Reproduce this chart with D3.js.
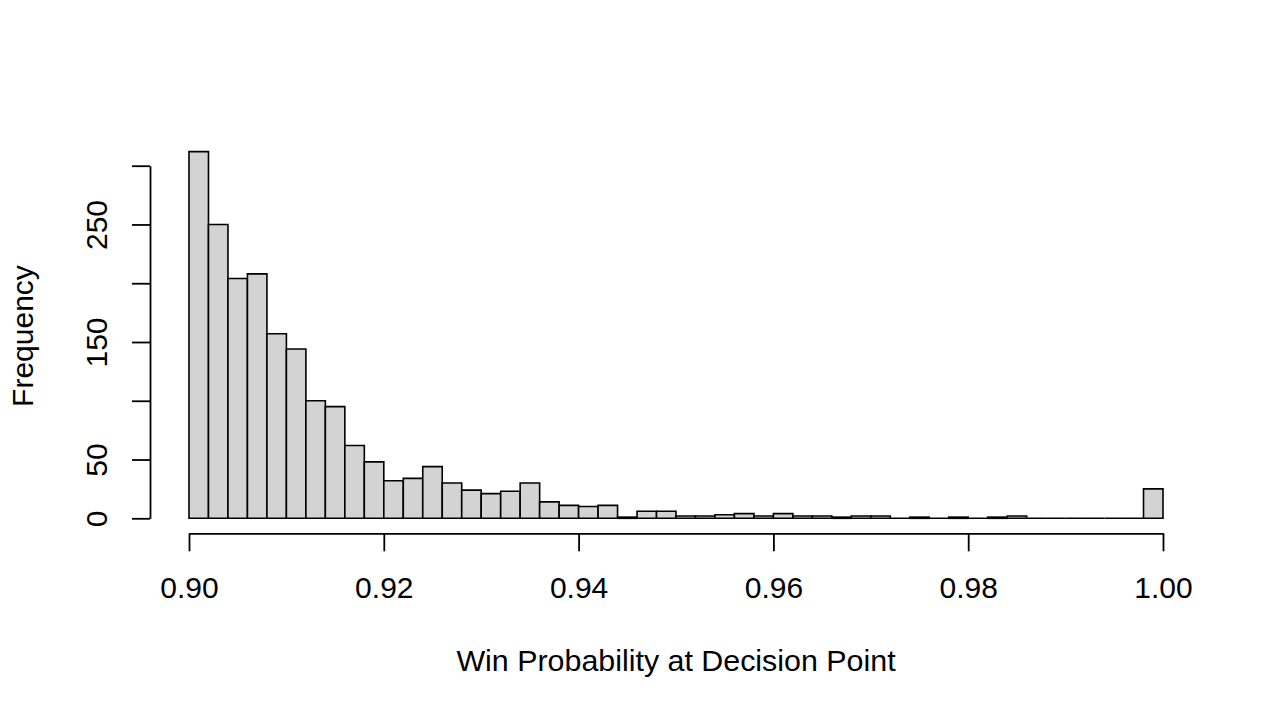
<!DOCTYPE html>
<html>
<head>
<meta charset="utf-8">
<script src="https://cdn.jsdelivr.net/npm/d3@7"></script>
<style>
  body { margin: 0; background: #fff; }
  svg { display: block; font-family: "Liberation Sans", Arial, Helvetica, sans-serif; }
</style>
</head>
<body>
<script>
// Histogram bin edges (width 0.002) and counts
const binEdges = [0.900, 0.902, 0.904, 0.906, 0.908, 0.910, 0.912, 0.914, 0.916, 0.918,
                  0.920, 0.922, 0.924, 0.926, 0.928, 0.930, 0.932, 0.934, 0.936, 0.938,
                  0.940, 0.942, 0.944, 0.946, 0.948, 0.950, 0.952, 0.954, 0.956, 0.958,
                  0.960, 0.962, 0.964, 0.966, 0.968, 0.970, 0.972, 0.974, 0.976, 0.978,
                  0.980, 0.982, 0.984, 0.986, 0.988, 0.990, 0.992, 0.994, 0.996, 0.998, 1.000];
const counts = [312, 250, 204, 208, 157, 144, 100, 95, 62, 48,
                32, 34, 44, 30, 24, 21, 23, 30, 14, 11,
                10, 11, 1, 6, 6, 2, 2, 3, 4, 2,
                4, 2, 2, 1, 2, 2, 0, 1, 0, 1,
                0, 1, 2, 0, 0, 0, 0, 0, 0, 25];

const xTicks = [0.90, 0.92, 0.94, 0.96, 0.98, 1.00];
const yTicks = [0, 50, 100, 150, 200, 250, 300];
const yTickLabels = ["0", "50", "", "150", "", "250", ""]; // R drops the overlapping ones

const xTitle = "Win Probability at Decision Point";
const yTitle = "Frequency";

const bins = counts.map((c, i) => ({ x0: binEdges[i], x1: binEdges[i + 1], count: c }));

const width = 1280;
const height = 720;
const fontSize = 30;

const x = d3.scaleLinear()
    .domain([0.90, 1.00])
    .range([189, 1163]);

const y = d3.scaleLinear()
    .domain([0, 300])
    .range([518.3, 165.7]);

const svg = d3.select("body").append("svg")
    .attr("width", width)
    .attr("height", height)
    .attr("viewBox", [0, 0, width, height]);

// bars as closed paths so that empty bins still show a flat outline
svg.append("g")
    .attr("fill", "#d3d3d3")
    .attr("stroke", "#000")
    .attr("stroke-width", 1.6)
    .selectAll("path")
    .data(bins)
    .join("path")
    .attr("d", d => {
        const p = d3.path();
        p.moveTo(x(d.x0), y(0));
        p.lineTo(x(d.x0), y(d.count));
        p.lineTo(x(d.x1), y(d.count));
        p.lineTo(x(d.x1), y(0));
        p.closePath();
        return p.toString();
    });

// x axis, offset below the bars like base R
const xAxis = d3.axisBottom(x)
    .tickValues(xTicks)
    .tickFormat(d3.format(".2f"))
    .tickSize(18)
    .tickSizeOuter(0);

svg.append("g")
    .attr("transform", "translate(0,533.3)")
    .call(xAxis)
    .call(g => g.select(".domain").attr("stroke-width", 1.8))
    .call(g => g.selectAll(".tick line").attr("stroke-width", 1.8))
    .call(g => g.selectAll(".tick text")
        .attr("y", 65)
        .attr("dy", 0)
        .attr("fill", "#000")
        .style("font-size", fontSize + "px")
        .style("font-family", "'Liberation Sans', Arial, sans-serif"));

// y axis with rotated labels
const yAxis = d3.axisLeft(y)
    .tickValues(yTicks)
    .tickFormat((d, i) => yTickLabels[i])
    .tickSize(18)
    .tickSizeOuter(0);

svg.append("g")
    .attr("transform", "translate(150,0)")
    .call(yAxis)
    .call(g => g.select(".domain").attr("stroke-width", 1.8))
    .call(g => g.selectAll(".tick line").attr("stroke-width", 1.8))
    .call(g => g.selectAll(".tick text")
        .attr("transform", "rotate(-90)")
        .attr("x", 0)
        .attr("y", -43)
        .attr("dy", 0)
        .attr("text-anchor", "middle")
        .attr("fill", "#000")
        .style("font-size", fontSize + "px")
        .style("font-family", "'Liberation Sans', Arial, sans-serif"));

// axis titles
svg.append("text")
    .attr("x", (x.range()[0] + x.range()[1]) / 2)
    .attr("y", 671)
    .attr("text-anchor", "middle")
    .style("font-size", "30.4px")
    .text(xTitle);

svg.append("text")
    .attr("transform", `translate(33,336) rotate(-90)`)
    .attr("text-anchor", "middle")
    .style("font-size", fontSize + "px")
    .text(yTitle);
</script>
</body>
</html>
